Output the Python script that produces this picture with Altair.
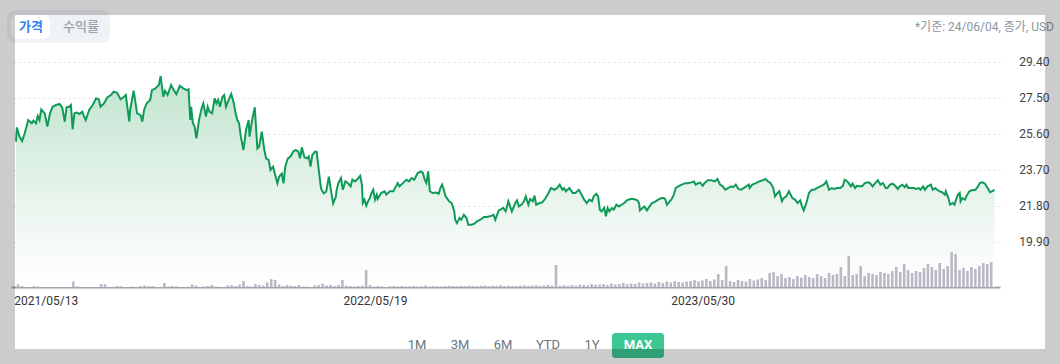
import altair as alt
import pandas as pd

START = pd.Timestamp("2021-04-02")

# days since START, closing price (USD)
price_day = [
    0, 1, 4, 7, 10, 14, 18, 20, 23, 25,
    27, 29, 33, 36, 39, 42, 46, 50, 53, 56,
    58, 61, 63, 65, 67, 70, 73, 76, 78, 80,
    84, 88, 92, 95, 97, 101, 105, 109, 112, 116,
    120, 124, 126, 130, 131, 135, 139, 143, 145, 147,
    150, 154, 156, 160, 164, 166, 169, 171, 174, 178,
    181, 184, 188, 192, 196, 198, 200, 201, 203, 205,
    207, 210, 213, 215, 218, 220, 222, 225, 228, 230,
    232, 234, 237, 239, 241, 244, 247, 250, 252, 254,
    256, 258, 261, 264, 267, 268, 271, 274, 277, 279,
    282, 285, 287, 290, 292, 295, 297, 300, 302, 305,
    307, 309, 312, 315, 318, 321, 324, 326, 328, 331,
    334, 336, 338, 340, 343, 345, 347, 350, 353, 356,
    359, 362, 364, 367,
    368, 370, 373, 375, 378, 381, 384, 386, 389, 392,
    395, 397, 398, 400, 402, 404, 406, 408, 410, 412,
    414, 415, 419, 423, 425, 429, 433, 436, 438, 440,
    444, 448, 451, 454, 457, 461, 465, 467, 469, 471,
    473, 475, 478, 482, 485, 487, 489, 491, 493, 497,
    500, 503, 504, 506, 509, 511, 514, 517, 519, 523,
    526, 529, 533, 537, 540, 544, 548, 550, 554,
    556, 559, 562, 565, 567, 569, 573, 575, 577, 580,
    583, 585, 588, 590, 593, 595, 597, 601, 604, 607,
    610, 614, 618, 621, 624, 627, 629, 631, 635, 639,
    642, 646, 648, 652, 655, 658, 661, 663, 666, 668,
    670, 672, 675, 677, 679, 681, 684, 686, 689, 692,
    695, 698, 701, 705, 709, 713, 715, 716, 719, 721,
    724, 727, 730, 734, 737, 741,
    743, 745, 747, 750, 752, 755, 757, 760, 764, 768,
    771, 775, 778, 780, 783, 785, 788, 790, 794, 798,
    802, 805, 808, 811, 814, 817, 821, 823, 826, 829,
    832, 835, 838, 841, 842, 845, 849, 853, 857, 860,
    863, 866, 869, 871, 874, 876, 879, 881, 884, 887,
    889, 891, 894, 897, 900, 902, 904, 907, 910, 913,
    916, 919, 923, 927,
    930, 933, 936, 939, 942, 946, 949, 951, 954, 956,
    958, 960, 963, 965, 968, 971, 974, 978, 980, 983,
    986, 989, 992, 995, 998, 1000, 1003, 1006, 1009, 1012,
    1014, 1017, 1020, 1022, 1024, 1027, 1030, 1033, 1036, 1038,
    1041, 1043, 1046, 1050, 1052, 1055, 1057, 1060, 1063, 1066,
    1067, 1070, 1072, 1075, 1077, 1079, 1081, 1083, 1084, 1086,
    1089, 1091, 1094, 1097, 1101, 1104, 1106, 1109, 1112, 1115,
    1118, 1120, 1123,
]
price_close = [
    25.18, 25.93, 25.44, 25.21, 25.62, 26.32, 26.15, 26.29, 26.15, 26.53,
    26.32, 26.88, 26.67, 25.97, 26.67, 27.02, 27.11, 27.17, 26.99, 26.23,
    26.99, 27.02, 27.11, 25.83, 26.67, 26.71, 26.64, 26.76, 26.53, 26.32,
    26.85, 27.11, 27.47, 27.41, 27.02, 27.20, 27.52, 27.64, 27.82, 27.76,
    27.41, 27.55, 27.64, 26.23, 26.85, 27.87, 26.67, 26.58, 26.23, 26.85,
    27.20, 27.38, 27.90, 27.99, 28.17, 28.64, 27.55, 27.87, 27.64, 28.17,
    27.90, 27.69, 28.12, 27.99, 27.90, 27.94, 26.32, 27.02, 26.15, 25.97,
    25.35, 26.32, 26.94, 27.20, 26.50, 27.02, 26.76, 26.67, 27.47, 27.20,
    27.38, 27.02, 27.55, 27.64, 27.02, 27.38, 27.69, 27.20, 26.67, 26.32,
    26.15, 25.44, 24.74, 25.79, 26.32, 25.44, 26.32, 26.99, 24.82, 24.91,
    25.70, 24.74, 24.30, 24.21, 23.68, 23.86, 23.50, 22.98, 23.33, 23.50,
    22.98, 23.86, 24.30, 24.39, 24.65, 24.74, 24.65, 24.30, 24.88, 24.35,
    24.30, 24.39, 23.86, 24.47, 24.65, 24.65, 23.86, 22.71, 22.45, 22.54,
    23.33, 22.45, 21.92, 22.27,
    22.64, 22.99, 23.26, 22.64, 23.08, 22.99, 22.82, 23.17, 23.08, 23.21,
    23.38, 22.91, 21.94, 22.12, 21.80, 22.03, 22.20, 22.47, 22.64, 22.12,
    22.38, 22.15, 22.47, 22.56, 22.38, 22.56, 22.56, 22.82, 22.99, 22.82,
    22.99, 23.17, 23.08, 23.26, 23.17, 23.52, 23.61, 23.52, 23.17, 22.99,
    23.61, 22.56, 22.47, 22.50, 22.43, 22.73, 22.91, 22.64, 22.29, 22.03,
    21.94, 21.50, 21.06, 20.88, 21.15, 21.06, 21.32, 21.15, 20.80, 20.80,
    20.85, 20.97, 21.06, 21.20, 21.20, 21.24, 21.32, 21.06, 21.55,
    21.59, 21.68, 21.50, 22.03, 21.76, 21.50, 21.94, 22.08, 21.76, 21.85,
    22.03, 22.29, 21.85, 22.15, 22.03, 22.33, 21.85, 21.94, 21.97, 22.15,
    22.38, 22.73, 22.64, 22.73, 22.91, 22.64, 22.73, 22.56, 22.73, 22.47,
    22.47, 22.64, 22.47, 22.12, 21.94, 22.12, 22.03, 22.29, 22.43, 22.29,
    21.59, 21.50, 21.68, 21.24, 21.68, 21.50, 21.68, 21.59, 21.85, 21.76,
    21.85, 21.94, 22.08, 22.15, 22.15, 22.08, 21.94, 21.55, 21.68, 21.76,
    21.55, 21.76, 21.94, 22.03, 22.12, 22.20,
    22.20, 22.15, 21.85, 22.03, 22.12, 22.38, 22.73, 22.82, 22.91, 22.99,
    22.99, 23.03, 23.08, 22.91, 22.99, 23.03, 22.85, 22.99, 23.14, 23.14,
    23.08, 23.21, 22.91, 22.82, 22.64, 22.73, 22.82, 22.78, 22.91, 22.68,
    22.64, 22.73, 22.82, 22.91, 22.73, 22.91, 22.99, 23.08, 23.14, 23.21,
    23.08, 22.99, 22.73, 22.29, 22.47, 22.56, 22.03, 22.20, 22.29, 22.56,
    22.38, 22.20, 22.12, 21.94, 22.08, 21.76, 21.55, 21.94, 22.47, 22.64,
    22.64, 22.73, 22.82, 22.91,
    23.08, 22.64, 22.73, 22.68, 22.73, 22.73, 22.85, 23.17, 23.08, 22.96,
    22.82, 22.96, 22.73, 22.85, 22.82, 22.82, 22.99, 23.03, 22.99, 22.82,
    22.99, 23.14, 22.91, 22.99, 22.73, 22.73, 22.91, 22.96, 22.85, 22.68,
    22.82, 22.91, 22.78, 22.91, 22.73, 22.73, 22.73, 22.68, 22.73, 22.64,
    22.82, 22.64, 22.82, 22.91, 22.64, 22.73, 22.64, 22.56, 22.50, 22.38,
    22.56, 22.20, 21.85, 21.94, 21.85, 22.15, 22.38, 22.47, 22.03, 22.20,
    22.12, 22.33, 22.56, 22.61, 22.64, 22.82, 22.99, 23.03, 22.96, 22.73,
    22.50, 22.56, 22.64,
]

# trading volume (thousand shares), one bar every ~4.5 days
volume_k = [
    25, 10, 0, 0, 8, 5, 0, 0, 0, 0,
    0, 0, 0, 0, 55, 5, 0, 0, 0, 0,
    0, 30, 28, 0, 0, 10, 8, 0, 0, 5,
    0, 10, 15, 8, 10, 0, 0, 40, 5, 10,
    8, 0, 0, 5, 25, 15, 0, 5, 10, 20,
    5, 0, 0, 15, 20, 10, 25, 60, 10, 5,
    30, 20, 15, 45, 80, 70, 25, 10, 20, 15,
    10, 20, 5, 5, 0, 15, 20, 35, 15, 20,
    10, 20, 70, 15, 10, 5, 10, 15, 170, 20,
    5, 10, 5, 0, 8, 10, 5, 10, 5, 8,
    10, 5, 8, 15, 5, 10, 8, 5, 10, 12,
    10, 8, 12, 10, 15, 10, 8, 12, 15, 10,
    15, 12, 18, 10, 15, 12, 10, 15, 18, 12,
    15, 18, 12, 15, 20, 15, 220, 15, 18, 12,
    20, 15, 25, 20, 18, 30, 22, 25, 30, 20,
    35, 25, 30, 40, 28, 35, 30, 45, 35, 40,
    45, 35, 50, 40, 55, 45, 60, 50, 45, 55,
    60, 70, 55, 65, 80, 60, 75, 130, 70, 210,
    60, 50, 70, 60, 55, 80, 65, 75, 90, 70,
    140, 150, 110, 130, 90, 100, 80, 110, 95, 120,
    100, 90, 130, 110, 90, 140, 120, 130, 200, 110,
    310, 120, 130, 210, 110, 140, 130, 120, 150, 140,
    130, 160, 200, 150, 230, 170, 140, 160, 150, 190,
    230, 200, 170, 240, 180, 210, 350, 330, 170, 190,
    160, 200, 180, 210, 240, 230, 250,
]

tick_dates = [(2021, 5, 13), (2022, 5, 19), (2023, 5, 30)]
y_ticks = [19.90, 21.80, 23.70, 25.60, 27.50, 29.40]
tabs = ["가격", "수익률"]
range_buttons = ["1M", "3M", "6M", "YTD", "1Y", "MAX"]
note = "*기준: 24/06/04, 종가, USD"

price_df = pd.DataFrame({
    "date": START + pd.to_timedelta(price_day, unit="D"),
    "close": price_close,
})
vol_df = pd.DataFrame({
    "date": START + pd.to_timedelta([2.3 + 4.54 * i for i in range(len(volume_k))], unit="D"),
    "volume": volume_k,
})

NUM_FONT = "Roboto"
KR_FONT = "Noto Sans CJK KR"
W, H = 989, 243
Y_LO, Y_HI = 17.51, 30.33

x_scale = alt.Scale(domain=[alt.DateTime(year=2021, month=4, date=2),
                            alt.DateTime(year=2024, month=4, date=29, hours=12)])
y_scale = alt.Scale(domain=[Y_LO, Y_HI], zero=False, nice=False)

x_axis = alt.Axis(
    values=[alt.DateTime(year=y, month=m, date=d) for (y, m, d) in tick_dates],
    format="%Y/%m/%d", grid=False, ticks=False, tickSize=0,
    domain=True, domainColor="#a2a3ad", domainWidth=2,
    labelFont=NUM_FONT, labelFontSize=12, labelColor="#333333", labelPadding=8,
    labelOffset={"condition": {"test": "datum.index == 0", "value": -6}, "value": 0},
)
x_enc = alt.X("date:T", scale=x_scale, title=None, axis=x_axis)

area = alt.Chart(price_df).mark_area(
    line=False,
    color=alt.Gradient(
        gradient="linear", x1=0, x2=0, y1=0, y2=1,
        stops=[alt.GradientStop(color="#c1e4cf", offset=0),
               alt.GradientStop(color="#f3f9f5", offset=0.75),
               alt.GradientStop(color="#ffffff", offset=1)],
    ),
).encode(
    x=x_enc,
    y=alt.Y("close:Q", scale=y_scale, axis=None),
    y2=alt.datum(Y_LO),
)

vol = alt.Chart(vol_df).mark_bar(size=2.6, color="#b9b9c5").encode(
    x=x_enc,
    y=alt.Y("volume:Q", scale=alt.Scale(domain=[0, 2430], nice=False), axis=None),
)

line = alt.Chart(price_df).mark_line(color="#0f9b57", strokeWidth=2).encode(
    x=x_enc,
    y=alt.Y("close:Q", scale=y_scale, title=None, axis=alt.Axis(
        orient="right", values=y_ticks, format=".2f",
        grid=True, gridColor="#dedede", gridDash=[2, 3], gridWidth=1,
        domain=False, ticks=False, tickSize=0,
        labelFont=NUM_FONT, labelFontSize=12, labelColor="#444444",
        labelAlign="right", labelPadding=49,
    )),
)

one = pd.DataFrame({"k": [0]})


def rect(x, x2, y, y2, color, radius=0, opacity=1.0):
    return alt.Chart(one).mark_rect(color=color, cornerRadius=radius, opacity=opacity).encode(
        x=alt.value(x), x2=alt.value(x2), y=alt.value(y), y2=alt.value(y2))


def label(txt, x, y, color, size=13, weight="normal", align="center", font=KR_FONT):
    return alt.Chart(pd.DataFrame({"t": [txt]})).mark_text(
        font=font, fontSize=size, fontWeight=weight, color=color, align=align, baseline="middle",
    ).encode(text="t:N", x=alt.value(x), y=alt.value(y))


deco = [
    rect(-4, 99, -34, -1, "#eff2f6", radius=9),
    rect(0, 39, -29, -5, "#ffffff", radius=7),
    label(tabs[0], 20, -17, "#3182f6", weight="bold"),
    label(tabs[1], 70, -17, "#9aa1aa", weight=500),
    label(note, 1043, -17, "#8b95a1", size=12, align="right", font=f"{NUM_FONT}, {KR_FONT}"),
    rect(601, 653, 289, 314, "#3cc793", radius=3),
]
btn_x = [406, 449, 492, 537, 581, 627]
for txt, bx in zip(range_buttons, btn_x):
    if txt == "MAX":
        deco.append(label(txt, bx, 301, "#ffffff", size=13, weight="bold", font=NUM_FONT))
    else:
        deco.append(label(txt, bx, 301, "#6b7280", size=13, font=NUM_FONT))

overlay = [
    rect(-11, 1049, -44, -29, "#000000", opacity=0.2),
    rect(-11, 1049, 305, 320, "#000000", opacity=0.2),
    rect(-11, 4, -29, 305, "#000000", opacity=0.2),
    rect(1034, 1049, -29, 305, "#000000", opacity=0.2),
]

chart = alt.layer(area, vol, line, *deco, *overlay).resolve_scale(
    y="independent"
).properties(
    width=W, height=H,
    autosize=alt.AutoSizeParams(type="none"),
    padding={"left": 11, "top": 44, "right": 60, "bottom": 77},
    background="#ffffff",
).configure_view(stroke=None)

chart.save("out.html", embed_options={"renderer": "svg", "actions": False})
